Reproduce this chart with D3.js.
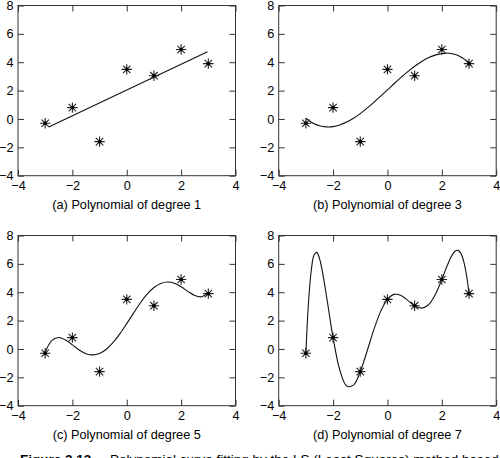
<!DOCTYPE html>
<html>
<head>
<meta charset="utf-8">
<script src="https://cdn.jsdelivr.net/npm/d3@7"></script>
<style>
  html, body { margin: 0; padding: 0; background: #fff; }
  svg { display: block; }
  text { font-family: "Liberation Sans", Arial, Helvetica, sans-serif; fill: #000; }
</style>
</head>
<body>
<svg id="chart" width="500" height="458"></svg>
<script>
// ---- data ----
const dataX = [-3, -2, -1, 0, 1, 2, 3];
const dataY = [-0.3, 0.8, -1.6, 3.5, 3.05, 4.9, 3.9];

const fit1X = [-2.87, 2.97];
const fit1Y = [-0.57, 4.74];

const fit3X = [-3, -2.75, -2.5, -2.25, -2, -1.75, -1.5, -1.25, -1, -0.75, -0.5, -0.25, 0,
               0.25, 0.5, 0.75, 1, 1.25, 1.5, 1.75, 2, 2.25, 2.5, 2.75, 3];
const fit3Y = [0.05, -0.28, -0.48, -0.56, -0.54, -0.42, -0.22, 0.05, 0.38, 0.76, 1.17, 1.61, 2.05,
               2.50, 2.93, 3.34, 3.72, 4.04, 4.31, 4.50, 4.61, 4.63, 4.54, 4.32, 3.98];

const fit5X = fit3X;
const fit5Y = [-0.21, 0.61, 0.81, 0.63, 0.29, -0.07, -0.33, -0.42, -0.32, -0.02, 0.46, 1.08, 1.79,
               2.53, 3.24, 3.86, 4.33, 4.62, 4.72, 4.63, 4.39, 4.06, 3.77, 3.68, 3.99];

const fit7X = [-3, -2.95, -2.9, -2.8, -2.7, -2.6, -2.5, -2.4, -2.3, -2.2, -2.1, -2, -1.75, -1.5, -1.25,
               -1, -0.75, -0.5, -0.25, 0, 0.25, 0.5, 0.75, 1, 1.25, 1.5, 1.75, 2, 2.1, 2.2, 2.3,
               2.4, 2.5, 2.6, 2.7, 2.8, 2.9, 2.95, 3];
const fit7Y = [-0.30, 1.75, 3.38, 5.57, 6.62, 6.81, 6.38, 5.53, 4.43, 3.21, 1.97, 0.80, -1.50, -2.61, -2.55,
               -1.60, -0.16, 1.36, 2.65, 3.50, 3.85, 3.77, 3.43, 3.05, 2.88, 3.10, 3.80, 4.90, 5.40, 5.88, 6.33,
               6.69, 6.91, 6.95, 6.74, 6.21, 5.29, 4.66, 3.90];

const xTicks = [-4, -2, 0, 2, 4];
const yTicks = [-4, -2, 0, 2, 4, 6, 8];
const xDomain = [-4, 4];
const yDomain = [-4, 8];

const captions = ["(a) Polynomial of degree 1", "(b) Polynomial of degree 3",
                  "(c) Polynomial of degree 5", "(d) Polynomial of degree 7"];
const figLabel = "Figure 2.13";
const figText = "Polynomial curve fitting by the LS (Least Squares) method based";

// ---- layout ----
const panels = [
  { left: 18,    top: 5.5,   fx: fit1X, fy: fit1Y, cap: captions[0] },
  { left: 278.7, top: 5.5,   fx: fit3X, fy: fit3Y, cap: captions[1] },
  { left: 18,    top: 235.5, fx: fit5X, fy: fit5Y, cap: captions[2] },
  { left: 278.7, top: 235.5, fx: fit7X, fy: fit7Y, cap: captions[3] }
];
const W = 217.5, H = 170.2, TICK = 6, FS = "12.7px";

const svg = d3.select("#chart");
svg.append("rect").attr("width", 500).attr("height", 458).attr("fill", "#fff");

const fmt = d3.format("");

panels.forEach(p => {
  const x = d3.scaleLinear().domain(xDomain).range([p.left, p.left + W]);
  const y = d3.scaleLinear().domain(yDomain).range([p.top + H, p.top]);
  const g = svg.append("g");

  // axes with inward ticks on all four sides
  const styleAxis = sel => {
    sel.select(".domain").remove();
    sel.selectAll(".tick line").attr("stroke", "#333").attr("stroke-width", 1);
    sel.selectAll(".tick text").attr("font-size", FS)
       .attr("font-family", '"Liberation Sans", Arial, Helvetica, sans-serif').attr("fill", "#000");
  };
  g.append("g").attr("transform", `translate(0,${p.top + H})`)
    .call(d3.axisBottom(x).tickValues(xTicks).tickFormat(fmt).tickSizeInner(-TICK).tickSizeOuter(0).tickPadding(5.5))
    .call(styleAxis);
  g.append("g").attr("transform", `translate(0,${p.top})`)
    .call(d3.axisTop(x).tickValues(xTicks).tickFormat("").tickSizeInner(-TICK).tickSizeOuter(0))
    .call(styleAxis);
  g.append("g").attr("transform", `translate(${p.left},0)`)
    .call(d3.axisLeft(y).tickValues(yTicks).tickFormat(fmt).tickSizeInner(-TICK).tickSizeOuter(0).tickPadding(4.5))
    .call(styleAxis);
  g.append("g").attr("transform", `translate(${p.left + W},0)`)
    .call(d3.axisRight(y).tickValues(yTicks).tickFormat("").tickSizeInner(-TICK).tickSizeOuter(0))
    .call(styleAxis);

  // box
  g.append("rect")
    .attr("x", x(xDomain[0])).attr("y", y(yDomain[1]))
    .attr("width", x(xDomain[1]) - x(xDomain[0]))
    .attr("height", y(yDomain[0]) - y(yDomain[1]))
    .attr("fill", "none").attr("stroke", "#333").attr("stroke-width", 1);

  // fitted curve
  const pts = p.fx.map((v, i) => [v, p.fy[i]]);
  const line = d3.line().x(d => x(d[0])).y(d => y(d[1]))
    .curve(pts.length > 2 ? d3.curveCatmullRom.alpha(0.5) : d3.curveLinear);
  g.append("path").datum(pts).attr("d", line)
    .attr("fill", "none").attr("stroke", "#111").attr("stroke-width", 1.1);

  // asterisk markers
  const r = 5.2, dd = 3.7;
  const star = `M${-r},0L${r},0M0,${-r}L0,${r}M${-dd},${-dd}L${dd},${dd}M${-dd},${dd}L${dd},${-dd}`;
  const m = g.selectAll(".mk").data(dataX.map((v, i) => [v, dataY[i]])).enter().append("g")
    .attr("transform", d => `translate(${x(d[0])},${y(d[1])})`);
  m.append("path").attr("d", star).attr("stroke", "#222").attr("stroke-width", 1.1).attr("fill", "none");
  m.append("circle").attr("r", 1.8).attr("fill", "#000");

  // caption
  g.append("text").attr("x", p.left + W / 2).attr("y", p.top + H + 33.5)
    .attr("text-anchor", "middle").attr("font-size", FS).text(p.cap);
});

// figure caption (cut off at the bottom edge, as in the reference)
svg.append("text").attr("x", 20).attr("y", 463.5).attr("font-size", "13.5px")
  .attr("font-weight", "bold").text(figLabel);
svg.append("text").attr("x", 110).attr("y", 463.5).attr("font-size", "13.5px").text(figText);
</script>
</body>
</html>
